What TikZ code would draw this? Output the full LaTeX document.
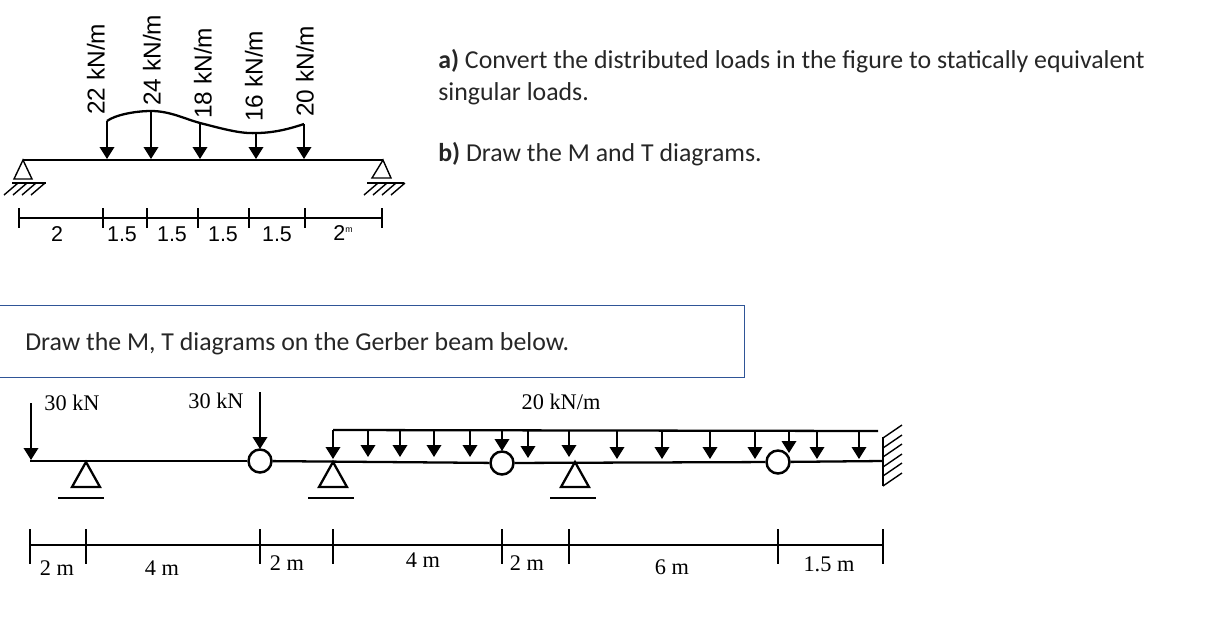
\documentclass[tikz,border=0pt]{standalone}
\usepackage{fontspec}
\setmainfont{Liberation Serif}
\newfontfamily\notefont{Carlito}
\newfontfamily\arialfont{Liberation Sans}
\usetikzlibrary{arrows.meta}
\definecolor{boxblue}{HTML}{2F5597}
\definecolor{notegray}{HTML}{262626}
\tikzset{
  member/.style={line width=1.3pt},
  thinline/.style={line width=0.8pt},
  loadarrow/.style={line width=1.1pt,-{Triangle[length=2.4mm,width=2.9mm]}},
  hinge/.style={circle,draw,line width=1.4pt,fill=white,minimum size=0.46cm,inner sep=0pt},
  notetext/.style={font=\notefont\fontsize{14.7}{17}\selectfont,text=notegray,anchor=base west,inner sep=0pt},
  sanslabel/.style={font=\arialfont\fontsize{13.9}{16}\selectfont,rotate=90,anchor=west,inner sep=0pt},
  sansdim/.style={font=\arialfont\fontsize{12.2}{14}\selectfont,inner sep=0pt},
  serifdim/.style={font=\fontsize{12.7}{14}\selectfont,inner sep=0pt}
}
\begin{document}
\begin{tikzpicture}[x=0.02cm,y=-0.02cm]
    \useasboundingbox (0,0) rectangle (1215,637);

    % upper beam
    \coordinate (beamL) at (23,160);
    \coordinate (beamR) at (383,160);
    \draw[member] (beamL)--(beamR);
    \draw[thinline] (beamL)--(14,179)--(32,179)--cycle;
    \draw[thinline] (beamR)--(372,178)--(391,178)--cycle;
    \draw[thinline] (12,183)--(46,183);
    \draw[thinline] (367,183)--(404,183);
    \foreach \x in {12,21,30,39} \draw[thinline] (\x+6,183)--(\x-8,195);
    \foreach \x in {372,381,390,399} \draw[thinline] (\x+6,183)--(\x-8,195);

    \foreach \x/\y in {107/121,151/111,200/123,256/133,304/124}
        \draw[loadarrow] (\x,\y)--(\x,159);
    \draw[member] (107,121) .. controls (115,115) and (135,111) .. (151,111)
        .. controls (170,111) and (185,119) .. (200,123)
        .. controls (220,128) and (240,134) .. (256,133)
        .. controls (275,133) and (292,128) .. (304,124);

    \node[sanslabel] (loadA) at (96,115) {22 kN/m};
    \node[sanslabel] (loadB) at (152,106) {24 kN/m};
    \node[sanslabel] (loadC) at (203,119) {18 kN/m};
    \node[sanslabel] (loadD) at (254,122) {16 kN/m};
    \node[sanslabel] (loadE) at (305,117) {20 kN/m};

    \draw[thinline] (19,218)--(382,218);
    \foreach \x in {19,103,147,198,249,305,382} \draw[thinline] (\x,208)--(\x,228);
    \node[sansdim] (dimA) at (57,234) {2};
    \node[sansdim] (dimB) at (122,234) {1.5};
    \node[sansdim] (dimC) at (172,234) {1.5};
    \node[sansdim] (dimD) at (223,234) {1.5};
    \node[sansdim] (dimE) at (277,234) {1.5};
    \node[sansdim] (dimF) at (343,233) {2\raisebox{0.7ex}{\fontsize{5}{5}\selectfont m}};

    % questions
    \node[notetext] (partA) at (438,68.5) {\textbf{a)} Convert the distributed loads in the figure to statically equivalent};
    \node[notetext] (partAb) at (438,100) {singular loads.};
    \node[notetext] (partB) at (438,161) {\textbf{b)} Draw the M and T diagrams.};

    \draw[boxblue,line width=0.5pt] (0,305)--(744,305)--(744,377)--(0,377);
    \node[notetext] (gerber) at (25,350.5) {Draw the M, T diagrams on the Gerber beam below.};

    % Gerber beam
    \coordinate (endL) at (30,461);
    \coordinate (wallP) at (883,461);
    \node[hinge] (hingeA) at (260,461) {};
    \node[hinge] (hingeB) at (502,463) {};
    \node[hinge] (hingeC) at (778,462) {};
    \draw[member] (endL)--(hingeA);
    \draw[member] (hingeA)--(hingeB);
    \draw[member] (hingeB)--(hingeC);
    \draw[member] (hingeC)--(wallP);

    \foreach \x/\g in {86/58,333/308,575/550} {
        \draw[member] (\x,462)--(\x-14,487)--(\x+14,487)--cycle;
        \draw[member] (\g,498)--(\g+46,498);
    }

    \draw[member] (883,437)--(883,486);
    \foreach \y in {438,448,457,467,476,486} \draw[thinline] (883,\y)--(902,\y-13);

    \draw[loadarrow] (31,403)--(31,460);
    \draw[loadarrow] (260,392)--(260,449);
    \draw[member] (333,430)--(878,431);
    \foreach \x/\y in {333/459,368/457,400/457,434/457,470/457,502/451,528/458,569/457,617/459,662/459,710/459,755/459,789/453,817/459,859/459}
        \draw[loadarrow] (\x,430)--(\x,\y);

    \node[serifdim] (forceA) at (72,403) {30 kN};
    \node[serifdim] (forceB) at (216,401) {30 kN};
    \node[serifdim] (forceC) at (561,402) {20 kN/m};

    \draw[member] (30,545)--(883,545);
    \foreach \x in {30,86,260,333,502,569,778,883} \draw[member] (\x,529)--(\x,564);
    \node[serifdim] (spanA) at (57,568) {2 m};
    \node[serifdim] (spanB) at (162,568) {4 m};
    \node[serifdim] (spanC) at (287,563) {2 m};
    \node[serifdim] (spanD) at (423,560) {4 m};
    \node[serifdim] (spanE) at (527,563) {2 m};
    \node[serifdim] (spanF) at (672,567) {6 m};
    \node[serifdim] (spanG) at (829,564) {1.5 m};
\end{tikzpicture}
\end{document}
